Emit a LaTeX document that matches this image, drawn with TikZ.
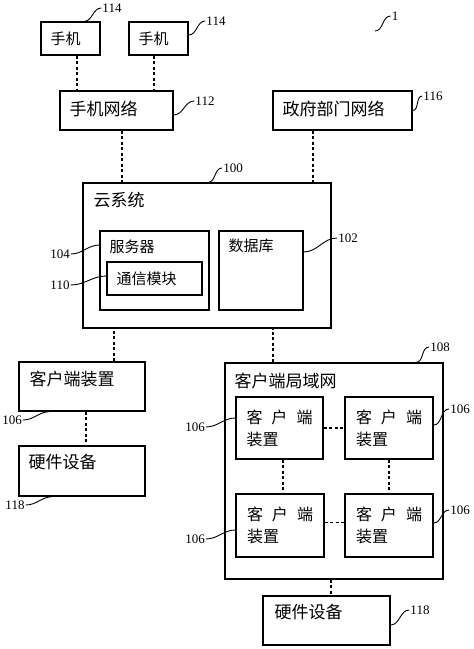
\documentclass[tikz,border=0pt]{standalone}
\usepackage{fontspec}
\setmainfont{Liberation Serif}
\newfontfamily\cjk{Noto Sans CJK SC}

\begin{document}
\begin{tikzpicture}
        [
            x = 1pt, y = -1pt,
            box/.style = {draw, line width = 1.2pt, inner sep = 0pt},
            bigtext/.style = {font = \cjk\fontsize{17}{20}\selectfont, inner sep = 0pt, anchor = west},
            smalltext/.style = {font = \cjk\fontsize{15}{18}\selectfont, inner sep = 0pt, anchor = west},
            clienttext/.style = {font = \cjk\fontsize{16}{22}\selectfont, align = left},
            net/.style = {line width = 1.1pt, dash pattern = on 3pt off 2.5pt},
            refno/.style = {font = \fontsize{13}{15}\selectfont, inner sep = 1pt},
            lead/.style = {line width = 0.9pt, out = 0, in = 180}]
        \useasboundingbox (0,0) rectangle (474,649);

        % phones and networks
        \node[box, minimum width = 59, minimum height = 33] (phone1) at (70.5,38.5) {};
        \node[box, minimum width = 59, minimum height = 33] (phone2) at (158.5,38.5) {};
        \node[box, minimum width = 113, minimum height = 39] (mnet) at (116.5,110.5) {};
        \node[box, minimum width = 139, minimum height = 39] (gov) at (342.5,110.5) {};
        \node[smalltext] (t-phone1) at ([xshift = 10pt]phone1.west) {手机};
        \node[smalltext] (t-phone2) at ([xshift = 10pt]phone2.west) {手机};
        \node[bigtext] (t-mnet) at ([shift = {(10pt,2pt)}]mnet.west) {手机网络};
        \node[bigtext] (t-gov) at ([shift = {(10pt,2pt)}]gov.west) {政府部门网络};

        % cloud system
        \node[box, minimum width = 248, minimum height = 145] (cloud) at (207,255.5) {};
        \node[bigtext] (t-cloud) at ([shift = {(11pt,-18pt)}]cloud.north west) {云系统};
        \node[box, minimum width = 109, minimum height = 79] (server) at (154.5,270.5) {};
        \node[smalltext] (t-server) at ([shift = {(10pt,-16pt)}]server.north west) {服务器};
        \node[box, minimum width = 95, minimum height = 33] (comm) at (154.5,278.5) {};
        \node[smalltext] (t-comm) at ([xshift = 10pt]comm.west) {通信模块};
        \node[box, minimum width = 84, minimum height = 79] (db) at (261,270.5) {};
        \node[smalltext] (t-db) at ([shift = {(10pt,-15pt)}]db.north west) {数据库};

        % single client
        \node[box, minimum width = 126, minimum height = 49] (client) at (82,386.5) {};
        \node[bigtext] (t-client) at ([shift = {(11pt,-18pt)}]client.north west) {客户端装置};
        \node[box, minimum width = 126, minimum height = 50] (hw1) at (82,471) {};
        \node[bigtext] (t-hw1) at ([shift = {(10pt,-17pt)}]hw1.north west) {硬件设备};

        % client LAN
        \node[box, minimum width = 218, minimum height = 216] (lan) at (334,471) {};
        \node[bigtext] (t-lan) at ([shift = {(10pt,-19pt)}]lan.north west) {客户端局域网};
        \node[box, clienttext, minimum width = 87, minimum height = 62] (c1) at (279.5,428) {客\hspace{9pt}户\hspace{9pt}端\\装置};
        \node[box, clienttext, minimum width = 88, minimum height = 62] (c2) at (389,428) {客\hspace{9pt}户\hspace{9pt}端\\装置};
        \node[box, clienttext, minimum width = 88, minimum height = 63] (c3) at (280,525.5) {客\hspace{9pt}户\hspace{9pt}端\\装置};
        \node[box, clienttext, minimum width = 88, minimum height = 63] (c4) at (389,525.5) {客\hspace{9pt}户\hspace{9pt}端\\装置};
        \node[box, minimum width = 127, minimum height = 49] (hw2) at (326.5,620.5) {};
        \node[bigtext] (t-hw2) at ([shift = {(12pt,-17pt)}]hw2.north west) {硬件设备};

        % dashed links
        \draw[net] ([xshift = 6.5pt]phone1.south) -- ([xshift = 6.5pt]phone1.south |- mnet.north);
        \draw[net] ([xshift = -4.5pt]phone2.south) -- ([xshift = -4.5pt]phone2.south |- mnet.north);
        \draw[net] ([xshift = 5.5pt]mnet.south) -- ([xshift = 5.5pt]mnet.south |- cloud.north);
        \draw[net] ([xshift = -29.5pt]gov.south) -- ([xshift = -29.5pt]gov.south |- cloud.north);
        \draw[net] ([xshift = 32pt]client.north) -- ([xshift = 32pt]client.north |- cloud.south);
        \draw[net] ([xshift = -61pt]lan.north) -- ([xshift = -61pt]lan.north |- cloud.south);
        \draw[net] ([xshift = 4pt]client.south) -- ([xshift = 4pt]client.south |- hw1.north);
        \draw[net] (c1.east) -- (c2.west);
        \draw[net] ([yshift = 3pt]c3.east) -- ([yshift = 3pt]c3.east -| c4.west);
        \draw[net] ([xshift = 3.5pt]c1.south) -- ([xshift = 3.5pt]c1.south |- c3.north);
        \draw[net] (c2.south) -- (c4.north);
        \draw[net] ([xshift = -3pt]lan.south) -- ([xshift = -3pt]lan.south |- hw2.north);

        % reference numbers
        \node[refno] (n114a) at (112,8) {114};
        \draw[lead] ([xshift = 13.5pt]phone1.north) to (n114a.west);
        \node[refno] (n114b) at (216,21) {114};
        \draw[lead] ([yshift = 3.5pt]phone2.east) to (n114b.west);
        \node[refno] (n1) at (395,16) {1};
        \coordinate (s1) at (375,31);
        \draw[lead] (s1) to (n1.west);
        \node[refno] (n112) at (205,101) {112};
        \draw[lead] ([yshift = -4.5pt]mnet.east) to (n112.west);
        \node[refno] (n116) at (433,96) {116};
        \draw[lead] (gov.east) to (n116.west);
        \node[refno] (n100) at (233,168) {100};
        \draw[lead] ([xshift = 1pt]cloud.north) to (n100.west);
        \node[refno] (n104) at (60,254) {104};
        \draw[lead] (n104.east) to ([yshift = 25.5pt]server.west);
        \node[refno] (n110) at (60,285) {110};
        \draw[lead] (n110.east) to ([yshift = 2.5pt]comm.west);
        \node[refno] (n102) at (348,238) {102};
        \draw[lead] ([yshift = 18.5pt]db.east) to (n102.west);
        \node[refno] (n106a) at (12,420) {106};
        \draw[lead] (n106a.east) to ([xshift = -32pt]client.south);
        \node[refno] (n118a) at (15,505) {118};
        \draw[lead] (n118a.east) to ([xshift = -29pt]hw1.south);
        \node[refno] (n108) at (440,347) {108};
        \draw[lead] ([xshift = 82pt]lan.north) to (n108.west);
        \node[refno] (n106b) at (195,427) {106};
        \draw[lead] (n106b.east) to ([yshift = 10pt]c1.west);
        \node[refno] (n106c) at (460,409) {106};
        \draw[lead] ([yshift = 3pt]c2.east) to (n106c.west);
        \node[refno] (n106d) at (195,539) {106};
        \draw[lead] (n106d.east) to ([yshift = -4.5pt]c3.west);
        \node[refno] (n106e) at (460,510) {106};
        \draw[lead] ([yshift = 2.5pt]c4.east) to (n106e.west);
        \node[refno] (n118b) at (420,610) {118};
        \draw[lead] ([yshift = -4.5pt]hw2.east) to (n118b.west);
    \end{tikzpicture}
\end{document}
